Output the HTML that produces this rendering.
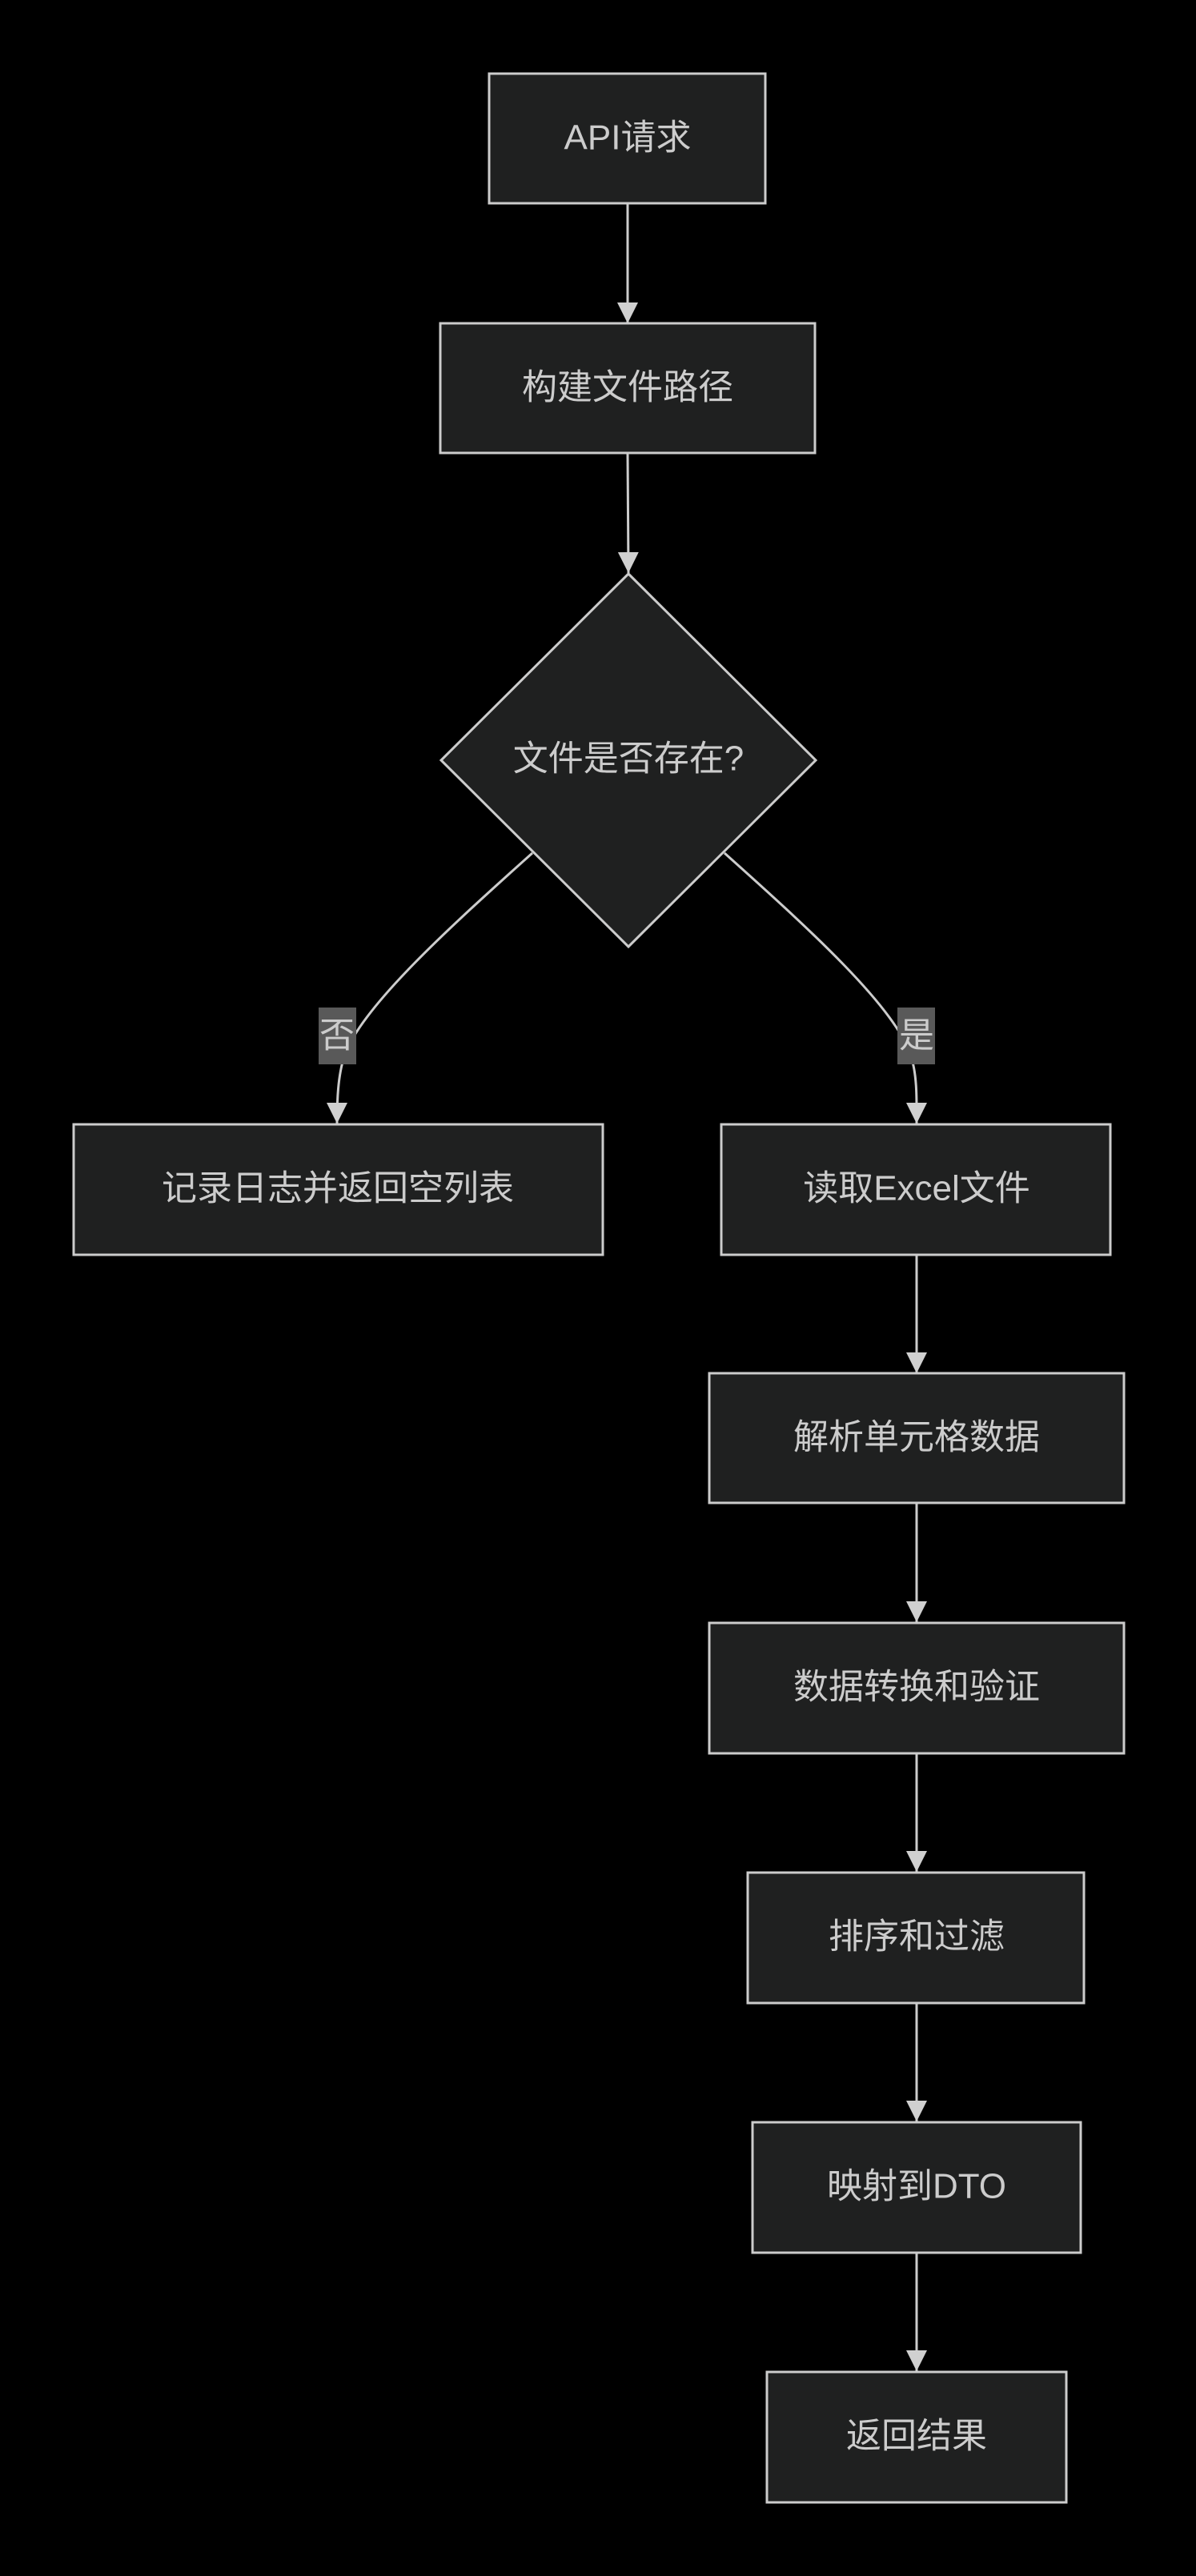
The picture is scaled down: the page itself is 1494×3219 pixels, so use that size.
<!DOCTYPE html>
<html><head><meta charset="utf-8"><style>
html,body{margin:0;padding:0;background:#000;}
svg{display:block;}
text{font-family:"Liberation Sans","Noto Sans CJK SC",sans-serif;font-size:44px;fill:#cccccc;text-anchor:middle;dominant-baseline:central;}
.n{fill:#1f2020;stroke:#cccccc;stroke-width:3;}
.e{fill:none;stroke:#cccccc;stroke-width:3;}
</style></head><body>
<svg width="1494" height="3219" viewBox="0 0 1494 3219" xmlns="http://www.w3.org/2000/svg">
<defs><marker id="a" markerWidth="12" markerHeight="12" refX="10" refY="6" orient="auto" markerUnits="userSpaceOnUse"><path d="M0,0 L12,6 L0,12 z" fill="#cccccc"/></marker>
<marker id="b" viewBox="0 0 10 10" markerWidth="26" markerHeight="26" refX="10" refY="5" orient="auto" markerUnits="userSpaceOnUse"><path d="M0,0 L10,5 L0,10 z" fill="#d0d0d0"/></marker></defs>
<!-- edges -->
<path class="e" d="M784,254 L784,404" marker-end="url(#b)"/>
<path class="e" d="M784,566 L785,716" marker-end="url(#b)"/>
<path class="e" d="M665,1066 C560,1160 450,1260 430,1320 C422,1345 421,1375 421,1404" marker-end="url(#b)"/>
<path class="e" d="M905,1066 C1010,1160 1120,1260 1138,1320 C1146,1345 1145,1375 1145,1404" marker-end="url(#b)"/>
<path class="e" d="M1145,1568 L1145,1716" marker-end="url(#b)"/>
<path class="e" d="M1145,1878 L1145,2027" marker-end="url(#b)"/>
<path class="e" d="M1145,2191 L1145,2339" marker-end="url(#b)"/>
<path class="e" d="M1145,2503 L1145,2651" marker-end="url(#b)"/>
<path class="e" d="M1145,2815 L1145,2963" marker-end="url(#b)"/>
<!-- nodes -->
<rect class="n" x="611" y="92" width="345" height="162"/><text x="784" y="172">API请求</text>
<rect class="n" x="550" y="404" width="468" height="162"/><text x="784" y="484">构建文件路径</text>
<polygon class="n" points="785,717 1019,950 785,1183 551,950"/><text x="785" y="948">文件是否存在?</text>
<rect x="398" y="1259" width="47" height="71" fill="#595959"/><text x="421" y="1294">否</text>
<rect x="1121" y="1259" width="47" height="71" fill="#595959"/><text x="1145" y="1294">是</text>
<rect class="n" x="92" y="1405" width="661" height="163"/><text x="422" y="1485">记录日志并返回空列表</text>
<rect class="n" x="901" y="1405" width="486" height="163"/><text x="1145" y="1485">读取Excel文件</text>
<rect class="n" x="886" y="1716" width="518" height="162"/><text x="1145" y="1796">解析单元格数据</text>
<rect class="n" x="886" y="2028" width="518" height="163"/><text x="1145" y="2108">数据转换和验证</text>
<rect class="n" x="934" y="2340" width="420" height="163"/><text x="1145" y="2420">排序和过滤</text>
<rect class="n" x="940" y="2652" width="410" height="163"/><text x="1145" y="2732">映射到DTO</text>
<rect class="n" x="958" y="2964" width="374" height="163"/><text x="1145" y="3044">返回结果</text>
</svg>
</body></html>
